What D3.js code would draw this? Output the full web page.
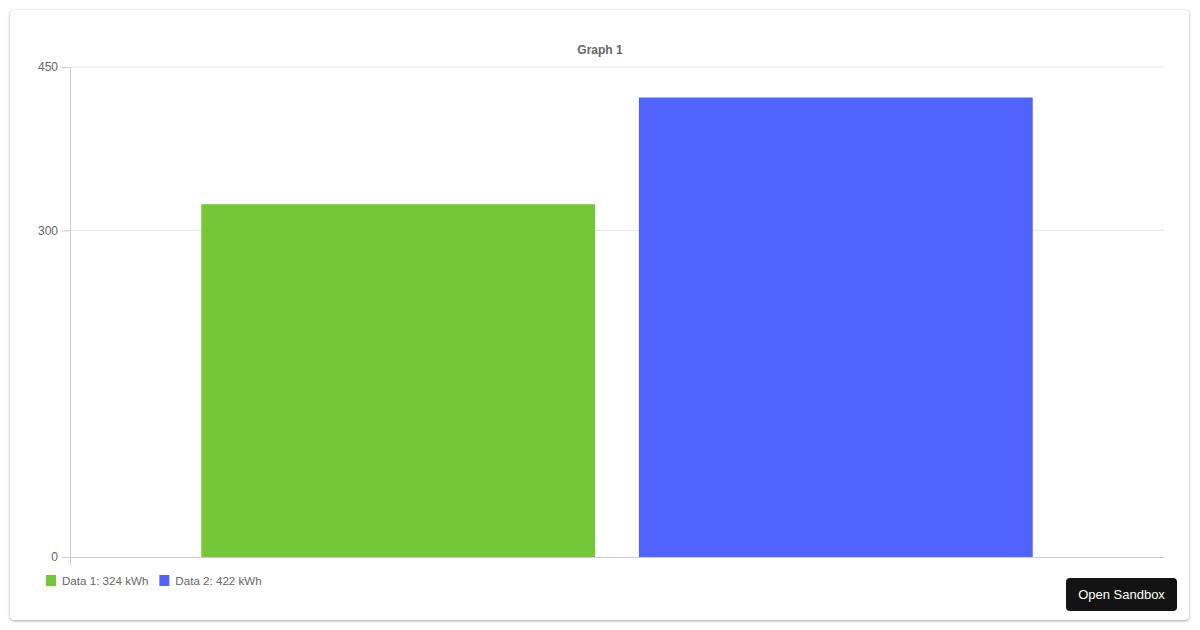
<!DOCTYPE html>
<html>
<head>
<meta charset="utf-8">
<script src="https://cdn.jsdelivr.net/npm/d3@7"></script>
<style>
  html, body { margin: 0; padding: 0; background: #fff; width: 1200px; height: 630px; overflow: hidden; }
  .card {
    position: absolute; left: 10px; top: 10px; width: 1179px; height: 610px;
    background: #fff; border-radius: 4px;
    box-shadow: 0 1px 3px rgba(0,0,0,0.35), 0 0 1px rgba(0,0,0,0.12);
  }
  .btn {
    position: absolute; left: 1066px; top: 578px; width: 111px; height: 33px;
    background: #131313; color: #fff; border-radius: 4px;
    font-family: "Liberation Sans", Arial, sans-serif; font-size: 13px;
    line-height: 33px; text-align: center;
  }
  svg { position: absolute; left: 0; top: 0; }
</style>
</head>
<body>
<div class="card"></div>
<div id="chart"></div>
<div class="btn">Open Sandbox</div>
<script>
// data
var categories = ["Data 1", "Data 2"];
var values = [324, 422];
var units = "kWh";
var colors = ["#74c837", "#5163ff"];
var yTicks = [0, 300, 450];
var title = "Graph 1";

var svgWidth = 1200;
var svgHeight = 630;

var margin = { top: 67, right: 36, bottom: 73, left: 70 };
var width = svgWidth - margin.left - margin.right;
var height = svgHeight - margin.top - margin.bottom;

var svg = d3.select("#chart")
    .append("svg")
    .attr("width", svgWidth)
    .attr("height", svgHeight);

var chartGroup = svg.append("g")
    .attr("transform", `translate(${margin.left}, ${margin.top})`);

var xScale = d3.scaleBand()
    .domain(categories)
    .range([0, width])
    .paddingInner(0.1)
    .paddingOuter(0.3);

var yScale = d3.scaleLinear()
    .domain([0, 450])
    .range([height, 0]);

// grid lines
chartGroup.append("g")
    .selectAll("line")
    .data(yTicks.filter(d => d > 0))
    .enter()
    .append("line")
    .attr("x1", 0)
    .attr("x2", width)
    .attr("y1", d => yScale(d))
    .attr("y2", d => yScale(d))
    .attr("stroke", "#e6e6e6")
    .attr("stroke-width", 1);

// bars
chartGroup.selectAll(".bar")
    .data(values)
    .enter()
    .append("rect")
    .attr("class", "bar")
    .attr("x", (d, i) => xScale(categories[i]))
    .attr("y", d => yScale(d))
    .attr("width", xScale.bandwidth())
    .attr("height", d => height - yScale(d))
    .attr("fill", (d, i) => colors[i]);

// y axis
var leftAxis = d3.axisLeft(yScale)
    .tickValues(yTicks)
    .tickSize(8)
    .tickPadding(4);

var yAxis = chartGroup.append("g").call(leftAxis);
yAxis.select(".domain").remove();
yAxis.selectAll(".tick line").attr("stroke", "#ccc");
yAxis.selectAll("text")
    .attr("fill", "#666")
    .attr("font-size", "12px")
    .attr("font-family", "Liberation Sans, Arial, sans-serif");

// vertical axis line (extends a bit below zero)
chartGroup.append("line")
    .attr("x1", 0.5).attr("x2", 0.5)
    .attr("y1", 0).attr("y2", height + 8)
    .attr("stroke", "#ccc");

// x axis line
chartGroup.append("line")
    .attr("x1", 0).attr("x2", width)
    .attr("y1", height + 0.5).attr("y2", height + 0.5)
    .attr("stroke", "#ccc");

// title
svg.append("text")
    .attr("x", 600)
    .attr("y", 54)
    .attr("text-anchor", "middle")
    .attr("font-family", "Liberation Sans, Arial, sans-serif")
    .attr("font-size", "12px")
    .attr("font-weight", "bold")
    .attr("fill", "#666")
    .text(title);

// legend
var legend = svg.append("g").attr("transform", "translate(46, 575)");
var offset = 0;
categories.forEach((c, i) => {
    var g = legend.append("g").attr("transform", `translate(${offset}, 0)`);
    g.append("rect")
        .attr("width", 10)
        .attr("height", 11)
        .attr("fill", colors[i]);
    var t = g.append("text")
        .attr("x", 16)
        .attr("y", 10)
        .attr("font-family", "Liberation Sans, Arial, sans-serif")
        .attr("font-size", "11.6px")
        .attr("fill", "#666")
        .text(`${c}: ${values[i]} ${units}`);
    offset += 16 + t.node().getComputedTextLength() + 11;
});
</script>
</body>
</html>
